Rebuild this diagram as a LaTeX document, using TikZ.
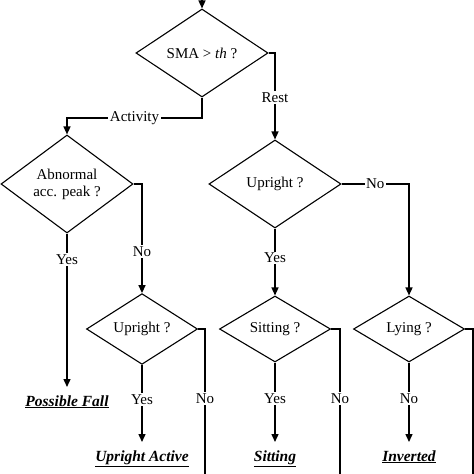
\documentclass[tikz,border=0pt]{standalone}
\usepackage{fontspec}
\setmainfont{Liberation Serif}
\usetikzlibrary{shapes.geometric,arrows.meta}
\tikzset{
    qdiam/.style={draw, diamond, inner sep=0pt, line width=1.1pt, align=center, font=\fontsize{15}{17}\selectfont},
    qbig/.style={qdiam, minimum width=132pt, minimum height=88pt},
    qsmall/.style={qdiam, minimum width=111pt, minimum height=66pt},
    qline/.style={line width=1.4pt},
    qarrow/.style={qline, -{Triangle[length=8pt, width=7pt]}},
    qlbl/.style={fill=white, inner sep=1.5pt, font=\fontsize{15}{17}\selectfont},
    qres/.style={font=\fontsize{15.5}{17}\selectfont\bfseries\itshape, text height=11pt, text depth=5pt, inner sep=3pt, outer sep=5pt}
}

\begin{document}
\begin{tikzpicture}[x=1pt, y=-1pt, line cap=butt, line join=miter]
            \useasboundingbox (0,0) rectangle (474,474);

            % decisions
            \node[qbig] (sma) at (202,53) {SMA > \textit{th} ?};
            \node[qbig] (abn) at (67,184) {Abnormal\\acc. peak ?};
            \node[qbig] (upr) at (275,184) {Upright ?};
            \node[qsmall] (upa) at (142,329) {Upright ?};
            \node[qsmall] (sit) at (275,329) {Sitting ?};
            \node[qsmall] (lyi) at (409,329) {Lying ?};

            % outcomes
            \node[qres] (fall) at (67,403) {\underline{Possible Fall}};
            \node[qres] (act) at (142,458) {\underline{Upright Active}};
            \node[qres] (sitres) at (275,458) {\underline{Sitting}};
            \node[qres] (inv) at (409,458) {\underline{Inverted}};

            % loose ends
            \coordinate (start) at (202,0);
            \coordinate (actbend) at (202,118);
            \coordinate (endA) at (205,474);
            \coordinate (endB) at (340,474);
            \coordinate (endC) at (473,474);

            \draw[qarrow] (start) -- (sma.north);
            \draw[qarrow] (sma.east) -| node[qlbl, pos=0.76] {Rest} (upr.north);
            \draw[qarrow] (sma.south) -- (actbend) -| node[qlbl, pos=0.25] {Activity} (abn.north);

            \draw[qarrow] (abn.south) -- node[qlbl, pos=0.17] {Yes} (fall.north);
            \draw[qarrow] (abn.east) -| node[qlbl, pos=0.81] {No} (upa.north);

            \draw[qarrow] (upr.south) -- node[qlbl, pos=0.44] {Yes} (sit.north);
            \draw[qarrow] (upr.east) -| node[qlbl, pos=0.25] {No} (lyi.north);

            \draw[qarrow] (upa.south) -- node[qlbl, pos=0.45] {Yes} (act.north);
            \draw[qline] (upa.east) -| node[qlbl, pos=0.74] {No} (endA);

            \draw[qarrow] (sit.south) -- node[qlbl, pos=0.45] {Yes} (sitres.north);
            \draw[qline] (sit.east) -| node[qlbl, pos=0.74] {No} (endB);

            \draw[qarrow] (lyi.south) -- node[qlbl, pos=0.45] {No} (inv.north);
            \draw[qline] (lyi.east) -| (endC);
        \end{tikzpicture}
\end{document}
